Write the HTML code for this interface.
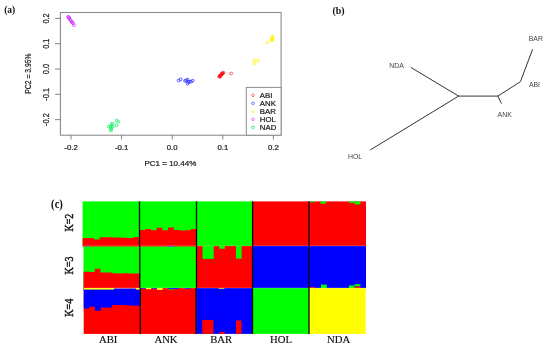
<!DOCTYPE html>
<html><head><meta charset="utf-8"><title>Figure</title>
<style>
html,body{margin:0;padding:0;background:#fff;}
body{width:550px;height:348px;overflow:hidden;}
svg{display:block;}
.s{font-family:"Liberation Sans",sans-serif;fill:#1c1c1c;stroke:#1c1c1c;stroke-width:0.22px;}
.t{font-family:"Liberation Serif",serif;fill:#111;}
.l{font-family:"Liberation Sans",sans-serif;fill:#444;}
</style></head><body>
<svg width="550" height="348" viewBox="0 0 550 348">
<rect width="550" height="348" fill="#fff"/>
<g id="pca">
<rect x="60.4" y="12.5" width="220.7" height="122.7" fill="none" stroke="#8c8c8c" stroke-width="1.1"/>
<line x1="71.0" y1="135.2" x2="71.0" y2="139.5" stroke="#777" stroke-width="0.9"/>
<text class="s" x="71.0" y="149.8" font-size="7.8" text-anchor="middle">-0.2</text>
<line x1="55.1" y1="119.6" x2="60.4" y2="119.6" stroke="#777" stroke-width="0.9"/>
<text class="s" font-size="8.6" text-anchor="middle" transform="translate(49.0 119.6) rotate(-90) scale(0.86 1)">-0.2</text>
<line x1="121.6" y1="135.2" x2="121.6" y2="139.5" stroke="#777" stroke-width="0.9"/>
<text class="s" x="121.6" y="149.8" font-size="7.8" text-anchor="middle">-0.1</text>
<line x1="55.1" y1="94.3" x2="60.4" y2="94.3" stroke="#777" stroke-width="0.9"/>
<text class="s" font-size="8.6" text-anchor="middle" transform="translate(49.0 94.3) rotate(-90) scale(0.86 1)">-0.1</text>
<line x1="172.2" y1="135.2" x2="172.2" y2="139.5" stroke="#777" stroke-width="0.9"/>
<text class="s" x="172.2" y="149.8" font-size="7.8" text-anchor="middle">0.0</text>
<line x1="55.1" y1="69.0" x2="60.4" y2="69.0" stroke="#777" stroke-width="0.9"/>
<text class="s" font-size="8.6" text-anchor="middle" transform="translate(49.0 69.0) rotate(-90) scale(0.86 1)">0.0</text>
<line x1="222.8" y1="135.2" x2="222.8" y2="139.5" stroke="#777" stroke-width="0.9"/>
<text class="s" x="222.8" y="149.8" font-size="7.8" text-anchor="middle">0.1</text>
<line x1="55.1" y1="43.7" x2="60.4" y2="43.7" stroke="#777" stroke-width="0.9"/>
<text class="s" font-size="8.6" text-anchor="middle" transform="translate(49.0 43.7) rotate(-90) scale(0.86 1)">0.1</text>
<line x1="273.4" y1="135.2" x2="273.4" y2="139.5" stroke="#777" stroke-width="0.9"/>
<text class="s" x="273.4" y="149.8" font-size="7.8" text-anchor="middle">0.2</text>
<line x1="55.1" y1="18.4" x2="60.4" y2="18.4" stroke="#777" stroke-width="0.9"/>
<text class="s" font-size="8.6" text-anchor="middle" transform="translate(49.0 18.4) rotate(-90) scale(0.86 1)">0.2</text>
<text class="s" x="170.4" y="166.3" font-size="8" text-anchor="middle">PC1 = 10.44%</text>
<text class="s" font-size="9.2" text-anchor="middle" transform="translate(30.6 73.6) rotate(-90) scale(0.74 1)">PC2 = 3.95%</text>
<ellipse cx="68.2" cy="16.8" rx="1.5" ry="1.38" fill="none" stroke="#c81eff" stroke-width="0.65" opacity="1"/>
<ellipse cx="68.6" cy="17.3" rx="1.5" ry="1.38" fill="none" stroke="#c81eff" stroke-width="0.65" opacity="1"/>
<ellipse cx="69.1" cy="18.0" rx="1.5" ry="1.38" fill="none" stroke="#c81eff" stroke-width="0.65" opacity="1"/>
<ellipse cx="69.9" cy="19.2" rx="1.5" ry="1.38" fill="none" stroke="#c81eff" stroke-width="0.65" opacity="1"/>
<ellipse cx="70.7" cy="20.4" rx="1.5" ry="1.38" fill="none" stroke="#c81eff" stroke-width="0.65" opacity="1"/>
<ellipse cx="71.6" cy="21.6" rx="1.5" ry="1.38" fill="none" stroke="#c81eff" stroke-width="0.65" opacity="1"/>
<ellipse cx="72.3" cy="22.4" rx="1.5" ry="1.38" fill="none" stroke="#c81eff" stroke-width="0.65" opacity="1"/>
<ellipse cx="72.9" cy="23.2" rx="1.5" ry="1.38" fill="none" stroke="#c81eff" stroke-width="0.65" opacity="1"/>
<ellipse cx="73.9" cy="25.2" rx="1.5" ry="1.38" fill="none" stroke="#c81eff" stroke-width="0.65" opacity="1"/>
<ellipse cx="178.6" cy="80.6" rx="1.45" ry="1.33" fill="none" stroke="#2a2aff" stroke-width="0.75" opacity="1"/>
<ellipse cx="180.6" cy="79.3" rx="1.45" ry="1.33" fill="none" stroke="#2a2aff" stroke-width="0.75" opacity="1"/>
<ellipse cx="185.1" cy="80.9" rx="1.45" ry="1.33" fill="none" stroke="#2a2aff" stroke-width="0.75" opacity="1"/>
<ellipse cx="186.3" cy="80.3" rx="1.45" ry="1.33" fill="none" stroke="#2a2aff" stroke-width="0.75" opacity="1"/>
<ellipse cx="187.6" cy="79.6" rx="1.45" ry="1.33" fill="none" stroke="#2a2aff" stroke-width="0.75" opacity="1"/>
<ellipse cx="187.6" cy="83.7" rx="1.45" ry="1.33" fill="none" stroke="#2a2aff" stroke-width="0.75" opacity="1"/>
<ellipse cx="188.4" cy="82.2" rx="1.45" ry="1.33" fill="none" stroke="#2a2aff" stroke-width="0.75" opacity="1"/>
<ellipse cx="189.1" cy="81.7" rx="1.45" ry="1.33" fill="none" stroke="#2a2aff" stroke-width="0.75" opacity="1"/>
<ellipse cx="191.1" cy="81.7" rx="1.45" ry="1.33" fill="none" stroke="#2a2aff" stroke-width="0.75" opacity="1"/>
<ellipse cx="192.7" cy="80.6" rx="1.45" ry="1.33" fill="none" stroke="#2a2aff" stroke-width="0.75" opacity="1"/>
<ellipse cx="116.7" cy="120.5" rx="1.45" ry="1.33" fill="none" stroke="#00f050" stroke-width="0.75" opacity="1"/>
<ellipse cx="118.4" cy="121.8" rx="1.45" ry="1.33" fill="none" stroke="#00f050" stroke-width="0.75" opacity="1"/>
<ellipse cx="112.3" cy="123.6" rx="1.45" ry="1.33" fill="none" stroke="#00f050" stroke-width="0.75" opacity="1"/>
<ellipse cx="116.5" cy="125.4" rx="1.45" ry="1.33" fill="none" stroke="#00f050" stroke-width="0.75" opacity="1"/>
<ellipse cx="108.9" cy="126.7" rx="1.45" ry="1.33" fill="none" stroke="#00f050" stroke-width="0.75" opacity="1"/>
<ellipse cx="110.9" cy="127.1" rx="1.45" ry="1.33" fill="none" stroke="#00f050" stroke-width="0.75" opacity="1"/>
<ellipse cx="112.4" cy="126.7" rx="1.45" ry="1.33" fill="none" stroke="#00f050" stroke-width="0.75" opacity="1"/>
<ellipse cx="110.9" cy="130.6" rx="1.45" ry="1.33" fill="none" stroke="#00f050" stroke-width="0.75" opacity="1"/>
<ellipse cx="111.2" cy="129.0" rx="1.45" ry="1.33" fill="none" stroke="#00f050" stroke-width="0.75" opacity="1"/>
<ellipse cx="111.6" cy="124.9" rx="1.45" ry="1.33" fill="none" stroke="#00f050" stroke-width="0.75" opacity="1"/>
<ellipse cx="219.2" cy="76.6" rx="1.45" ry="1.33" fill="none" stroke="#ff1010" stroke-width="0.75" opacity="1"/>
<ellipse cx="219.8" cy="76.2" rx="1.45" ry="1.33" fill="none" stroke="#ff1010" stroke-width="0.75" opacity="1"/>
<ellipse cx="220.2" cy="75.4" rx="1.45" ry="1.33" fill="none" stroke="#ff1010" stroke-width="0.75" opacity="1"/>
<ellipse cx="220.9" cy="75.6" rx="1.45" ry="1.33" fill="none" stroke="#ff1010" stroke-width="0.75" opacity="1"/>
<ellipse cx="221.2" cy="74.6" rx="1.45" ry="1.33" fill="none" stroke="#ff1010" stroke-width="0.75" opacity="1"/>
<ellipse cx="221.9" cy="74.4" rx="1.45" ry="1.33" fill="none" stroke="#ff1010" stroke-width="0.75" opacity="1"/>
<ellipse cx="222.3" cy="73.6" rx="1.45" ry="1.33" fill="none" stroke="#ff1010" stroke-width="0.75" opacity="1"/>
<ellipse cx="222.9" cy="73.4" rx="1.45" ry="1.33" fill="none" stroke="#ff1010" stroke-width="0.75" opacity="1"/>
<ellipse cx="223.4" cy="72.7" rx="1.45" ry="1.33" fill="none" stroke="#ff1010" stroke-width="0.75" opacity="1"/>
<ellipse cx="220.0" cy="76.8" rx="1.45" ry="1.33" fill="none" stroke="#ff1010" stroke-width="0.75" opacity="1"/>
<ellipse cx="222.0" cy="73.2" rx="1.45" ry="1.33" fill="none" stroke="#ff1010" stroke-width="0.75" opacity="1"/>
<ellipse cx="231.1" cy="73.5" rx="1.7" ry="1.3" fill="none" stroke="#ff2a2a" stroke-width="0.7"/>
<ellipse cx="267.3" cy="42.5" rx="1.45" ry="1.33" fill="none" stroke="#fff000" stroke-width="0.75" opacity="1"/>
<ellipse cx="272.7" cy="36.5" rx="1.45" ry="1.33" fill="none" stroke="#fff000" stroke-width="0.75" opacity="1"/>
<ellipse cx="272.3" cy="38.6" rx="1.45" ry="1.33" fill="none" stroke="#fff000" stroke-width="0.75" opacity="1"/>
<ellipse cx="272.1" cy="39.2" rx="1.45" ry="1.33" fill="none" stroke="#fff000" stroke-width="0.75" opacity="1"/>
<ellipse cx="271.9" cy="39.9" rx="1.45" ry="1.33" fill="none" stroke="#fff000" stroke-width="0.75" opacity="1"/>
<ellipse cx="271.7" cy="40.5" rx="1.45" ry="1.33" fill="none" stroke="#fff000" stroke-width="0.75" opacity="1"/>
<ellipse cx="272.5" cy="37.9" rx="1.45" ry="1.33" fill="none" stroke="#fff000" stroke-width="0.75" opacity="1"/>
<ellipse cx="254.4" cy="60.5" rx="1.45" ry="1.33" fill="none" stroke="#fff000" stroke-width="0.75" opacity="1"/>
<ellipse cx="258.2" cy="60.7" rx="1.45" ry="1.33" fill="none" stroke="#fff000" stroke-width="0.75" opacity="1"/>
<ellipse cx="254.6" cy="63.2" rx="1.45" ry="1.33" fill="none" stroke="#fff000" stroke-width="0.75" opacity="1"/>
<rect x="246.3" y="87.4" width="34.8" height="47.8" fill="#fff" stroke="#8c8c8c" stroke-width="1"/>
<ellipse cx="253" cy="95.3" rx="1.45" ry="1.2" fill="none" stroke="#ff4545" stroke-width="0.7"/>
<text class="s" x="259.8" y="98.1" font-size="7.8">ABI</text>
<ellipse cx="253" cy="103.3" rx="1.45" ry="1.2" fill="none" stroke="#4848ff" stroke-width="0.7"/>
<text class="s" x="259.8" y="106.1" font-size="7.8">ANK</text>
<ellipse cx="253" cy="111.3" rx="1.45" ry="1.2" fill="none" stroke="#ffee3a" stroke-width="0.7"/>
<text class="s" x="259.8" y="114.1" font-size="7.8">BAR</text>
<ellipse cx="253" cy="119.3" rx="1.45" ry="1.2" fill="none" stroke="#d548ff" stroke-width="0.7"/>
<text class="s" x="259.8" y="122.1" font-size="7.8">HOL</text>
<ellipse cx="253" cy="127.3" rx="1.45" ry="1.2" fill="none" stroke="#00ee5a" stroke-width="0.7"/>
<text class="s" x="259.8" y="130.1" font-size="7.8">NAD</text>
<text class="t" font-size="11.3" font-weight="bold" transform="translate(4.2 12.6) scale(0.84 1)">(a)</text>
</g>
<g id="tree" stroke="#333" stroke-width="1" stroke-linecap="round" fill="none">
<path d="M411.2 67.6 L458.6 96.1 L370.5 149.8"/>
<path d="M458.6 96.1 L497.9 96.1 L520.4 81.7 L532.5 49.6"/>
<path d="M497.9 96.1 L501.3 103.2"/>
</g>
<g id="treelab">
<text class="l" x="389.2" y="67.5" font-size="6.9">NDA</text>
<text class="l" x="348.0" y="158.6" font-size="6.9">HOL</text>
<text class="l" x="528.7" y="40.6" font-size="6.9">BAR</text>
<text class="l" x="528.9" y="86.7" font-size="6.9">ABI</text>
<text class="l" x="497.6" y="117.3" font-size="6.9">ANK</text>
<text class="t" font-size="11.3" font-weight="bold" transform="translate(332.4 13.65) scale(0.88 1)">(b)</text>
</g>
<g id="structure">
<rect x="82.6" y="201.4" width="57.7" height="45.3" fill="#00ff00"/>
<rect x="139.5" y="201.4" width="57.8" height="45.3" fill="#00ff00"/>
<rect x="196.5" y="201.4" width="56.9" height="45.3" fill="#00ff00"/>
<rect x="252.6" y="201.4" width="57.2" height="45.3" fill="#ff0000"/>
<rect x="309.0" y="201.4" width="57.0" height="45.3" fill="#ff0000"/>
<rect x="83.5" y="245.9" width="57.1" height="42.9" fill="#00ff00"/>
<rect x="139.8" y="245.9" width="57.5" height="42.9" fill="#00ff00"/>
<rect x="196.5" y="245.9" width="56.8" height="42.9" fill="#ff0000"/>
<rect x="252.5" y="245.9" width="57.3" height="42.9" fill="#0000ff"/>
<rect x="309.0" y="245.9" width="57.0" height="42.9" fill="#0000ff"/>
<rect x="83.7" y="288.0" width="57.4" height="45.9" fill="#ff0000"/>
<rect x="140.3" y="288.0" width="56.5" height="45.9" fill="#ff0000"/>
<rect x="196.0" y="288.0" width="57.3" height="45.9" fill="#0000ff"/>
<rect x="252.5" y="288.0" width="57.3" height="45.9" fill="#00ff00"/>
<rect x="309.0" y="288.0" width="56.6" height="45.9" fill="#ffff00"/>
<path d="M82.6 246.4 L82.60 237.9 L88.29 237.9 L88.29 237.9 L93.98 237.9 L93.98 239.5 L99.67 239.5 L99.67 237.2 L105.36 237.2 L105.36 237.2 L111.05 237.2 L111.05 237.4 L116.74 237.4 L116.74 237.6 L122.43 237.6 L122.43 237.8 L128.12 237.8 L128.12 237.9 L133.81 237.9 L133.81 237.1 L139.50 237.1 L139.5 246.4Z" fill="#ff0000"/>
<path d="M139.5 246.4 L139.50 229.9 L145.20 229.9 L145.20 228.9 L150.90 228.9 L150.90 230.2 L156.60 230.2 L156.60 227.8 L162.30 227.8 L162.30 230.3 L168.00 230.3 L168.00 227.4 L173.70 227.4 L173.70 230.0 L179.40 230.0 L179.40 230.5 L185.10 230.5 L185.10 230.3 L190.80 230.3 L190.80 229.0 L196.50 229.0 L196.5 246.4Z" fill="#ff0000"/>
<rect x="309.0" y="201.4" width="5.7" height="0.9" fill="#00ff00"/>
<rect x="320.4" y="201.4" width="5.7" height="2.2" fill="#00ff00"/>
<rect x="348.9" y="201.4" width="5.7" height="1.5" fill="#00ff00"/>
<rect x="354.6" y="201.4" width="5.7" height="3.0" fill="#00ff00"/>
<path d="M83.5 288.5 L83.50 271.8 L89.13 271.8 L89.13 271.9 L94.76 271.9 L94.76 268.7 L100.39 268.7 L100.39 272.5 L106.02 272.5 L106.02 272.6 L111.65 272.6 L111.65 273.2 L117.28 273.2 L117.28 273.4 L122.91 273.4 L122.91 273.2 L128.54 273.2 L128.54 273.4 L134.17 273.4 L134.17 273.5 L139.80 273.5 L139.8 288.5Z" fill="#ff0000"/>
<rect x="84.6" y="245.9" width="4.5" height="0.7" fill="#3070e0"/>
<rect x="168.2" y="245.9" width="5.7" height="0.9" fill="#2060e0"/>
<rect x="202.5" y="245.9" width="11.2" height="13.0" fill="#00ff00"/>
<rect x="219.3" y="245.9" width="5.5" height="2.9" fill="#00ff00"/>
<rect x="236.0" y="245.9" width="5.6" height="12.7" fill="#00ff00"/>
<rect x="309.0" y="287.1" width="5.7" height="0.9" fill="#ff0000"/>
<rect x="321.0" y="284.6" width="5.7" height="3.4" fill="#00ff00"/>
<rect x="348.9" y="285.4" width="5.7" height="2.6" fill="#00ff00"/>
<rect x="354.6" y="284.2" width="5.7" height="2.2" fill="#00ff00"/>
<rect x="354.6" y="286.4" width="5.7" height="1.6" fill="#ff0000"/>
<rect x="83.7" y="288.0" width="57.4" height="3.0" fill="#ff0000"/>
<rect x="140.3" y="288.0" width="56.5" height="3.0" fill="#ff0000"/>
<rect x="196.0" y="288.0" width="57.3" height="3.0" fill="#0000ff"/>
<rect x="252.5" y="288.0" width="57.3" height="3.0" fill="#00ff00"/>
<rect x="309.0" y="288.0" width="56.6" height="3.0" fill="#ffff00"/>
<path d="M83.7 288.0 L83.70 308.4 L89.36 308.4 L89.36 306.8 L95.02 306.8 L95.02 310.7 L100.68 310.7 L100.68 307.6 L106.34 307.6 L106.34 307.6 L112.00 307.6 L112.00 305.0 L117.66 305.0 L117.66 305.0 L123.32 305.0 L123.32 305.3 L128.98 305.3 L128.98 305.6 L134.64 305.6 L134.64 305.8 L140.30 305.8 L140.3 288.0Z" fill="#0000ff"/>
<rect x="83.7" y="288.0" width="30.3" height="1.6" fill="#ffff00"/>
<rect x="114.0" y="288.0" width="21.8" height="0.5" fill="#ffb0a0"/>
<rect x="135.8" y="288.0" width="4.5" height="1.6" fill="#ffff00"/>
<rect x="140.3" y="288.0" width="5.6" height="0.7" fill="#0000ff"/>
<rect x="145.9" y="288.0" width="5.6" height="1.2" fill="#ffff00"/>
<rect x="151.4" y="288.0" width="5.6" height="0.7" fill="#0000ff"/>
<rect x="157.0" y="288.0" width="5.6" height="2.0" fill="#ffff00"/>
<rect x="168.2" y="288.0" width="5.6" height="1.0" fill="#0000ff"/>
<rect x="168.2" y="289.0" width="5.6" height="0.8" fill="#20c020"/>
<rect x="173.7" y="288.0" width="5.6" height="1.0" fill="#0000ff"/>
<rect x="184.9" y="288.0" width="5.6" height="0.8" fill="#0000ff"/>
<rect x="202.2" y="319.9" width="11.3" height="14.0" fill="#ff0000"/>
<rect x="219.3" y="331.9" width="5.4" height="2.0" fill="#ff0000"/>
<rect x="236.0" y="320.5" width="5.5" height="13.4" fill="#ff0000"/>
<rect x="218.6" y="288.0" width="5.7" height="0.7" fill="#ffff00"/>
<rect x="83.5" y="245.6" width="282.5" height="0.6" fill="#fff" opacity="0.4"/>
<rect x="83.7" y="287.7" width="282" height="0.6" fill="#fff" opacity="0.4"/>
<rect x="138.85" y="201.4" width="1.3" height="44.6" fill="#0a0a0a"/>
<rect x="195.85" y="201.4" width="1.3" height="44.6" fill="#0a0a0a"/>
<rect x="251.95" y="201.4" width="1.3" height="44.6" fill="#0a0a0a"/>
<rect x="308.35" y="201.4" width="1.3" height="44.6" fill="#0a0a0a"/>
<rect x="139.15" y="245.9" width="1.3" height="42.2" fill="#0a0a0a"/>
<rect x="195.85" y="245.9" width="1.3" height="42.2" fill="#0a0a0a"/>
<rect x="251.85" y="245.9" width="1.3" height="42.2" fill="#0a0a0a"/>
<rect x="308.35" y="245.9" width="1.3" height="42.2" fill="#0a0a0a"/>
<rect x="139.65" y="288.0" width="1.3" height="46.0" fill="#0a0a0a"/>
<rect x="195.35" y="288.0" width="1.3" height="46.0" fill="#0a0a0a"/>
<rect x="251.85" y="288.0" width="1.3" height="46.0" fill="#0a0a0a"/>
<rect x="308.35" y="288.0" width="1.3" height="46.0" fill="#0a0a0a"/>
</g>
<g id="structlab">
<text class="t" x="108.2" y="343.3" font-size="10.7" text-anchor="middle" stroke="#111" stroke-width="0.15">ABI</text>
<text class="t" x="166.0" y="343.3" font-size="10.7" text-anchor="middle" stroke="#111" stroke-width="0.15">ANK</text>
<text class="t" x="221.2" y="343.3" font-size="10.7" text-anchor="middle" stroke="#111" stroke-width="0.15">BAR</text>
<text class="t" x="281.0" y="343.3" font-size="10.7" text-anchor="middle" stroke="#111" stroke-width="0.15">HOL</text>
<text class="t" x="338.7" y="343.3" font-size="10.7" text-anchor="middle" stroke="#111" stroke-width="0.15">NDA</text>
<text class="t" font-size="12.6" text-anchor="middle" stroke="#111" stroke-width="0.45" transform="translate(73.3 222.6) rotate(-90) scale(0.8 1)">K=2</text>
<text class="t" font-size="12.6" text-anchor="middle" stroke="#111" stroke-width="0.45" transform="translate(73.3 265.4) rotate(-90) scale(0.8 1)">K=3</text>
<text class="t" font-size="12.6" text-anchor="middle" stroke="#111" stroke-width="0.45" transform="translate(73.3 307.7) rotate(-90) scale(0.8 1)">K=4</text>
<text class="t" font-size="11.8" font-weight="bold" transform="translate(51.1 207.95) scale(0.9 1)">(c)</text>
</g>
</svg>
</body></html>
